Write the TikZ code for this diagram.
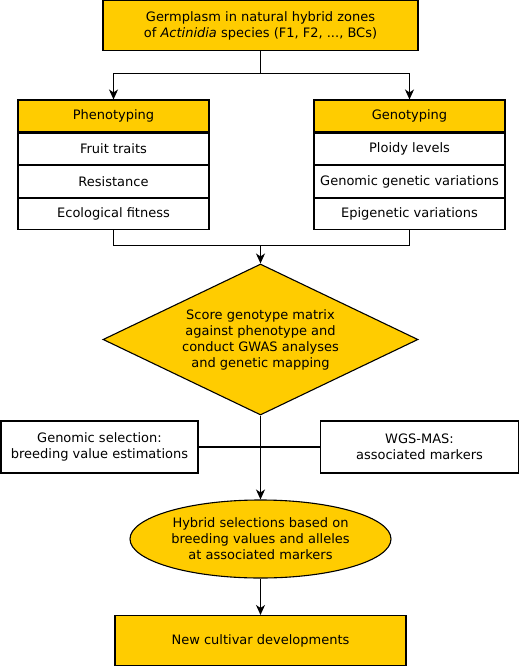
\documentclass[tikz,border=0pt]{standalone}
\usepackage{fontspec}
\setmainfont{DejaVu Sans}
\usetikzlibrary{shapes.geometric,arrows.meta}
\definecolor{gold}{HTML}{FFCC00}
\begin{document}
\begin{tikzpicture}[x=1pt,y=-1pt,
  every node/.style={font=\fontsize{13}{16}\selectfont, align=center, inner sep=0pt},
  goldbox/.style={draw=black, fill=gold, line width=1.1pt},
  whitebox/.style={draw=black, fill=white, line width=1.1pt},
  conn/.style={line width=1.1pt},
  arr/.style={line width=1.1pt, -{Stealth[length=10pt,width=9pt,inset=3pt]}}]
\useasboundingbox (0,0) rectangle (519,667);
% top
\node[goldbox, minimum width=315pt, minimum height=50pt] (top) at (260.5,25.5) {Germplasm in natural hybrid zones\\of \textit{Actinidia} species (F1, F2, ..., BCs)};
% phenotyping
\node[goldbox, minimum width=191pt, minimum height=32pt] (ph) at (113.5,116) {Phenotyping};
\node[whitebox, minimum width=191pt, minimum height=31.5pt, anchor=north] (ph1) at (ph.south) {Fruit traits};
\node[whitebox, minimum width=191pt, minimum height=31.5pt, anchor=north] (ph2) at (ph1.south) {Resistance};
\node[whitebox, minimum width=191pt, minimum height=31.5pt, anchor=north] (ph3) at (ph2.south) {Ecological fitness};
% genotyping
\node[goldbox, minimum width=191pt, minimum height=32pt] (ge) at (409.5,116) {Genotyping};
\node[whitebox, minimum width=191pt, minimum height=31.5pt, anchor=north] (ge1) at (ge.south) {Ploidy levels};
\node[whitebox, minimum width=191pt, minimum height=31.5pt, anchor=north] (ge2) at (ge1.south) {Genomic genetic variations};
\node[whitebox, minimum width=191pt, minimum height=31.5pt, anchor=north] (ge3) at (ge2.south) {Epigenetic variations};
% diamond
\node[goldbox, diamond, minimum width=315pt, minimum height=151pt] (dia) at (260.5,339.5) {};
\node at (dia.center) {Score genotype matrix\\against phenotype and\\conduct GWAS analyses\\and genetic mapping};
% side boxes
\node[whitebox, minimum width=197pt, minimum height=52pt] (gs) at (99.5,447) {Genomic selection:\\breeding value estimations};
\node[whitebox, minimum width=198pt, minimum height=52pt] (wgs) at (419.5,447) {WGS-MAS:\\associated markers};
% ellipse
\node[goldbox, ellipse, minimum width=261pt, minimum height=78pt] (ell) at (260.5,539) {Hybrid selections based on\\breeding values and alleles\\at associated markers};
% bottom
\node[goldbox, minimum width=291pt, minimum height=50pt] (bot) at (260.5,640.5) {New cultivar developments};
% connectors
\coordinate (split) at (260.5,73.5);
\draw[conn] (top.south) -- (split);
\draw[arr] (split) -| (ph.north);
\draw[arr] (split) -| (ge.north);
\coordinate (join) at (260.5,245.5);
\draw[conn] (ph3.south) |- (join) -| (ge3.south);
\draw[arr] (join) -- (dia.north);
\draw[arr] (dia.south) -- (ell.north);
\draw[conn] (gs.east) -- (wgs.west);
\draw[arr] (ell.south) -- (bot.north);
\end{tikzpicture}
\end{document}
